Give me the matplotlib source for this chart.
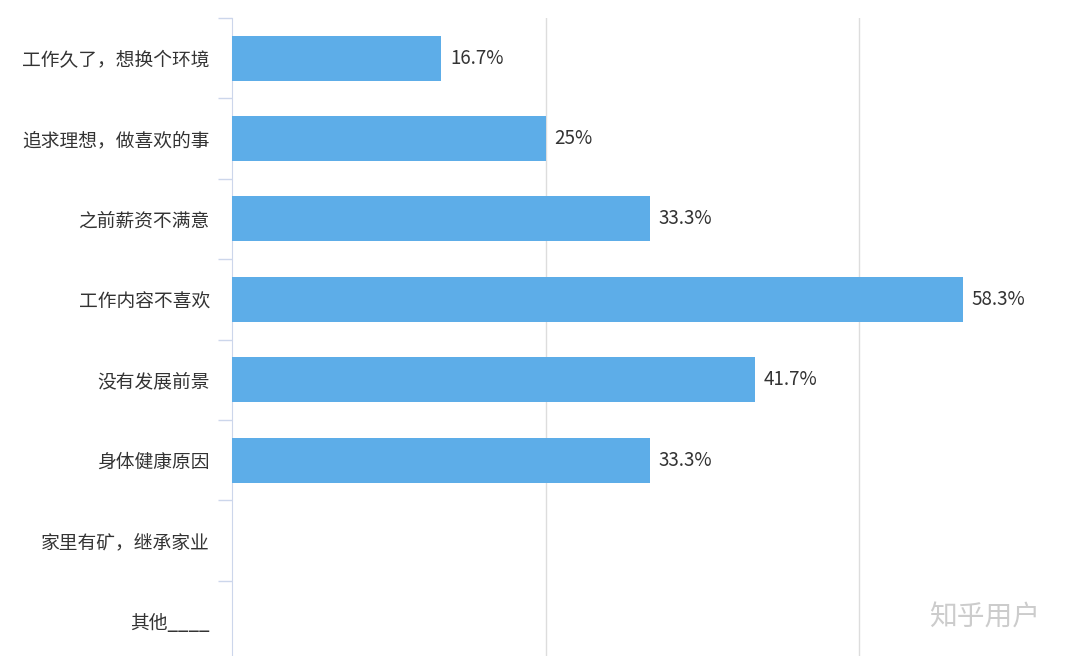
import matplotlib
matplotlib.use("Agg")
import matplotlib.pyplot as plt

plt.rcParams['font.family'] = ['Noto Sans CJK SC', 'DejaVu Sans']

categories = ["工作久了，想换个环境", "追求理想，做喜欢的事", "之前薪资不满意", "工作内容不喜欢",
              "没有发展前景", "身体健康原因", "家里有矿，继承家业", "其他____"]
values = [16.7, 25, 33.3, 58.3, 41.7, 33.3, 0, 0]
labels = ["16.7%", "25%", "33.3%", "58.3%", "41.7%", "33.3%", "", ""]

W, H = 1080, 656
fig = plt.figure(figsize=(W/100, H/100), dpi=100)
left = 232/W
top = 18/H
bottom = -5/H
ax = fig.add_axes([left, bottom, 1-left, 1-top-bottom])

n = len(categories)
ys = list(range(n))
ax.barh(ys, values, height=0.56, color='#5dade8', zorder=3)
for y, v, l in zip(ys, values, labels):
    if l:
        ax.text(v + 0.7, y, l, va='center', ha='left', fontsize=13.5, color='#333333')

ax.set_xlim(0, (W-232)/12.54)
ax.set_ylim(n-0.5, -0.5)
ax.set_xticks([25, 50])
ax.xaxis.grid(True, color='#dddddd', linewidth=1, zorder=0)
ax.tick_params(axis='x', length=0, labelbottom=False)

ax.set_yticks(ys)
ax.set_yticklabels(categories, fontsize=13.5, color='#333333')
ax.tick_params(axis='y', which='major', length=0, pad=16)
ax.set_yticks([i + 0.5 for i in range(-1, n)], minor=True)
ax.tick_params(axis='y', which='minor', length=10, color='#ccd6eb', width=1)

for s in ['top', 'right', 'bottom']:
    ax.spines[s].set_visible(False)
ax.spines['left'].set_color('#ccd6eb')

fig.text(985/W, 1-618/H, "知乎用户", fontsize=20, color='#cccccc', ha='center', va='center')

fig.savefig("out.png", dpi=100, facecolor='white')
